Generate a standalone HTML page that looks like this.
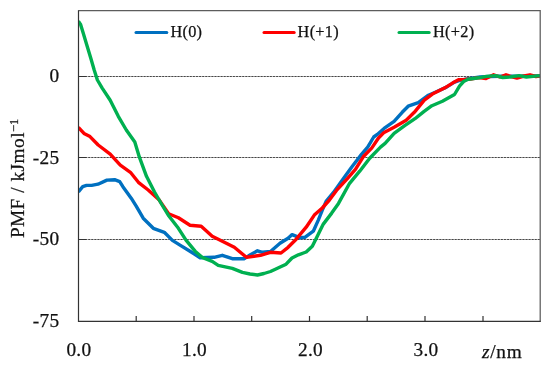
<!DOCTYPE html>
<html><head><meta charset="utf-8"><title>PMF chart</title>
<style>
html,body{margin:0;padding:0;background:#fff;}
svg{display:block;}
text{font-family:"Liberation Serif",serif;fill:#111;stroke:#111;stroke-width:0.25px;}
</style></head>
<body>
<svg width="550" height="368" viewBox="0 0 550 368">
<rect width="550" height="368" fill="#fff"/>
<g stroke="#888" stroke-width="1" fill="none" opacity="0.55">
<line x1="79" y1="76.5" x2="540" y2="76.5"/>
<line x1="79" y1="157.5" x2="540" y2="157.5"/>
<line x1="79" y1="239.5" x2="540" y2="239.5"/>
</g>
<g stroke="#3a3a3a" stroke-width="0.9" stroke-dasharray="1.9 1.18" fill="none">
<line x1="79" y1="76.5" x2="540" y2="76.5"/>
<line x1="79" y1="157.5" x2="540" y2="157.5"/>
<line x1="79" y1="239.5" x2="540" y2="239.5"/>
</g>
<clipPath id="pc"><rect x="78.2" y="11" width="462.4" height="310.4"/></clipPath>
<g fill="none" stroke-width="3.4" stroke-linejoin="round" clip-path="url(#pc)">
<polyline stroke="#0070c0" points="78.4,191.8 82.7,186.7 86.5,185.4 91.6,185.4 98,184.2 106.9,180.1 114.6,179.7 119.7,181.6 122.9,186.7 131.2,198.2 136.2,206.2 143.2,218.2 153.3,228.3 164.3,232.3 172.4,240.4 180.4,245.4 190,251.2 200.1,257.7 214.2,257.3 222.3,255.3 232.3,258.7 244.4,258.7 250.4,254.7 257.5,250.8 262.5,252.3 270.5,251.5 280,243.3 288.1,238.2 292.1,234.6 300.2,237.8 305.2,237.2 313.3,231.2 318.3,220.1 322.3,210.1 326.3,201 333.5,192.4 341.5,181.3 351.6,167.2 361.7,154.1 367.7,147.1 373.7,137 377.3,134.4 384.1,128.4 394.1,121.3 402.2,112.3 408.2,106.2 418.3,102.6 428.4,95.2 436.4,91.7 446.5,87.1 454.5,82.1 460.5,80.1 470,78.5 480,77 490,76.5 500,76.3 520,76.3 540,76"/>
<polyline stroke="#ff0000" points="78.4,127.3 84,133.4 90,136.6 98.2,145 110.2,154.1 120.3,165.2 130.4,172.3 138.4,182.3 148.2,190 159.3,200.1 168.6,213.8 178.4,217.8 190,225.2 201.2,226.2 212.2,236.2 222.3,241.2 234.3,247.2 246.4,257.3 260.5,255.3 270.5,252.3 281,253 288.1,247.3 296.2,239.2 306.2,227.2 314.3,215.1 322.3,208 329.4,200 336.5,190.4 347.6,178.3 355.6,169.2 363.7,156.2 371.7,148.1 378.5,138 384.1,132.4 394.1,127.3 406.2,120.3 414.3,112.3 424.3,100.2 432.4,94.1 444.4,88.1 452.5,83.1 458.5,79.7 464.6,79.5 470.6,79 478.7,77.6 486,78.5 493.6,74.8 500,77 506,74.8 511,76.5 517,78 524,76 530,74.8 536,76.5 540,75.8"/>
<polyline stroke="#00b050" points="78.4,21.3 80.6,24.5 83.2,33 86.8,45 90.8,58.3 94.2,70 97.4,80 102.2,88.1 110.2,100.2 118.3,116.3 126.3,130 134.8,142 139.4,157.2 146.5,176.3 154.5,192 161.5,204 168.3,215.2 178.4,228.3 186,240.2 195.1,251.2 202.1,257.3 212.2,261.3 218.2,265.3 232.3,268.4 242.4,272.4 250,274 257.5,275 264,273.5 270.5,271.5 278,268 286.1,264.2 292,258 298.4,254.8 306.2,252 312.3,246.3 317.3,236.2 323.3,224.1 331.7,213.1 338.5,203.4 349.6,183.3 359.7,171.2 369.7,158.2 380.5,147.1 385.1,143.4 394.1,133.4 404.7,125.7 415,118.7 423.8,111.6 431.9,105.7 442.4,101.2 454.5,94.5 459.5,86.1 463.6,81.5 468.2,79.3 479,77.8 486.4,76.4 495.5,75.6 502.7,77.5 510,77 519,75.6 526.4,77 540,75.6"/>
</g>
<g fill="none" stroke-width="3" stroke-linecap="round">
<line stroke="#0070c0" x1="136" y1="32.4" x2="166.8" y2="32.4"/>
<line stroke="#ff0000" x1="264" y1="32.4" x2="294.2" y2="32.4"/>
<line stroke="#00b050" x1="399" y1="32.4" x2="429.2" y2="32.4"/>
</g>
<g fill="none" stroke="#5c5c5c" stroke-width="1.25">
<polyline points="78.5,10.5 540.2,10.5 540.2,321.4"/>
</g>
<g fill="none" stroke="#333" stroke-width="1.2">
<polyline points="78.5,10.2 78.5,321.4 540.8,321.4"/>
<path d="M136.2,316v5.4M194,316v5.4M251.7,316v5.4M309.5,316v5.4M367.2,316v5.4M425,316v5.4M483,316v5.4M78.5,76.5h7.5M78.5,157.5h7.5M78.5,239.5h7.5"/>
</g>
<g font-size="16.3px" letter-spacing="0.3">
<text x="170.4" y="36.6">H(0)</text>
<text x="297.6" y="36.6">H(+1)</text>
<text x="433" y="36.6">H(+2)</text>
</g>
<g font-size="19.3px" text-anchor="end" letter-spacing="0.3">
<text x="59.4" y="82.4">0</text>
<text x="59.4" y="163.8">-25</text>
<text x="59.4" y="245.4">-50</text>
<text x="59.4" y="327">-75</text>
</g>
<g font-size="19.3px" text-anchor="middle" letter-spacing="0.3">
<text x="78.9" y="355.5">0.0</text>
<text x="194.5" y="355.5">1.0</text>
<text x="310.5" y="355.5">2.0</text>
<text x="426" y="355.5">3.0</text>
</g>
<text x="481.9" y="357.5" font-size="19.3px" letter-spacing="0.8"><tspan style="font-style:italic">z</tspan>/nm</text>
<text transform="translate(23.8,238) rotate(-90)" font-size="19.3px" letter-spacing="0.5"><tspan letter-spacing="0.3">PMF</tspan><tspan dx="0.4"> / kJmol</tspan><tspan font-size="12.5px" dy="-6.3" letter-spacing="-0.2">−1</tspan></text>
</svg>
</body></html>
